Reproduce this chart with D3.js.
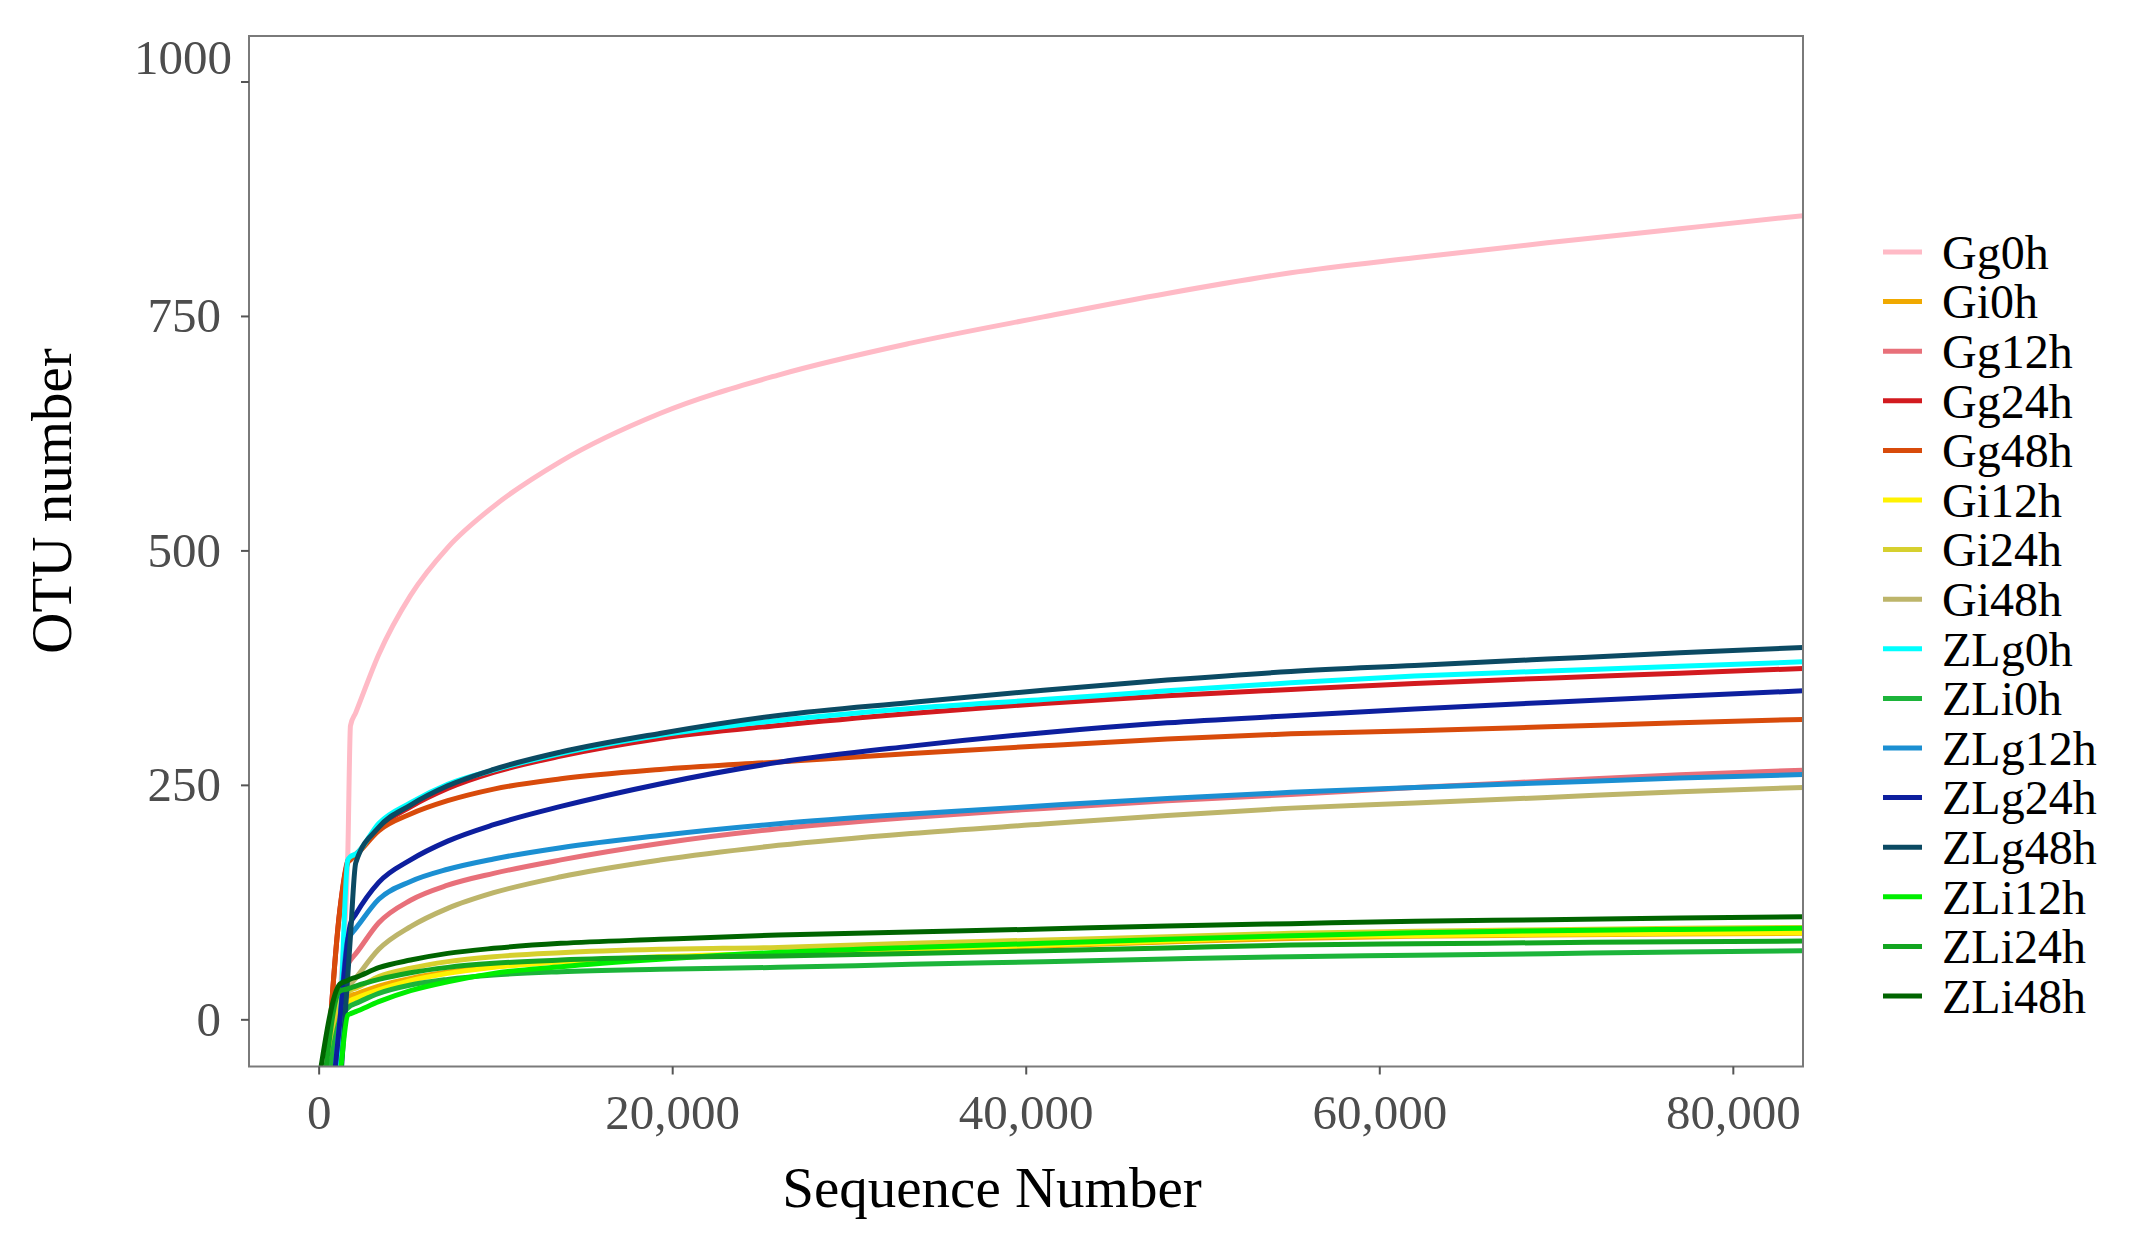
<!DOCTYPE html>
<html>
<head>
<meta charset="utf-8">
<script src="https://cdn.jsdelivr.net/npm/d3@7"></script>
<style>
  body { margin: 0; background: #fff; }
  text { font-family: "Liberation Serif", "Times New Roman", serif; }
</style>
</head>
<body>
<div id="chart"></div>
<script>
// sequencing depths where the rarefaction curves were sampled
let depths = [0, 1200, 1650, 1800, 2100, 3400, 5200, 7300, 9900, 13700, 19300, 26000,
              33500, 41000, 48000, 55000, 62000, 69500, 77000, 84000];

let samples = ["Gg0h", "Gi0h", "Gg12h", "Gg24h", "Gg48h", "Gi12h", "Gi24h", "Gi48h",
               "ZLg0h", "ZLi0h", "ZLg12h", "ZLg24h", "ZLg48h", "ZLi12h", "ZLi24h", "ZLi48h"];
let sampleColors = ["#FFBAC6", "#F0A900", "#E8707A", "#D21A1F", "#D84B0B", "#FFF200", "#D6D02E", "#BDB56A",
                    "#00FFFF", "#1CB43A", "#1B8FD2", "#0D1F9E", "#0B4A63", "#00EE00", "#12A520", "#006400"];

// OTU numbers (values under -50 sit below the panel)
let Gg0h  = [-399, 20, 177, 313, 327, 389, 452, 503, 547, 595, 646, 687, 721, 749, 774, 796, 812, 828, 843, 857];
let Gi0h  = [-134, 10, 23, 25, 27, 35.5, 43.7, 50.4, 56.1, 61.5, 66.1, 69.6, 73.9, 78.2, 82.4, 86.3, 88.5, 89.9, 91, 91.7];
let Gg12h = [-216, -17, 58, 63, 70, 103, 127, 143, 155.6, 170, 187.5, 203.2, 215.3, 224.9, 233.1, 239.8, 247.3, 254, 260.8, 265.7];
let Gg24h = [-201, 117, 169, 172, 176, 204.6, 226.7, 246.2, 263.3, 280.7, 299.5, 313.4, 326.2, 336.8, 345, 351.7, 358.1, 363.8, 369.1, 374.1];
let Gg48h = [-201, 116, 167, 170, 175, 201, 218.9, 233.1, 245.5, 256.5, 266.5, 274.5, 283.5, 291.7, 298.8, 304.5, 307.7, 311.9, 316.2, 319.8];
let Gi12h = [-133, 0, 18, 20, 22.4, 31.3, 41.2, 49, 55.4, 61.5, 66.8, 70.3, 74.6, 79.2, 83.8, 88.1, 89.5, 90.6, 91.7, 92.4];
let Gi24h = [-122, 22, 29, 31, 33.1, 45.5, 54.4, 61.5, 66.8, 71, 74.6, 76.7, 81, 84.6, 88.1, 91.7, 93.8, 95.6, 97, 98];
let Gi48h = [-205, -35, 33, 37, 44, 74.6, 98.8, 118.3, 135, 152, 169.8, 185.5, 198.2, 208.2, 217.4, 225.2, 230.6, 236.6, 242.7, 247.3];
let ZLg0h = [-530, -21, 170, 173.5, 176.2, 208.9, 230.9, 250.5, 265.7, 283.5, 303, 318.7, 331.5, 341, 350.3, 358.8, 366, 371.3, 376.6, 381.2];
let ZLi0h = [-150, 0, 12, 14.5, 17, 27.7, 36.6, 42.6, 47.3, 50.8, 53.3, 55.4, 58.6, 61.5, 64.3, 66.8, 68.2, 70, 71.8, 73.2];
let ZLg12h = [-232, -1, 86, 90, 97, 128, 147, 160, 171, 183, 196, 208.5, 218.9, 227.7, 235.5, 242, 247.3, 252.3, 257.2, 261.1];
let ZLg24h = [-230, -2, 85, 102, 112, 146, 170, 190, 207.5, 227, 251, 274, 291.3, 305.6, 316.2, 323.7, 330.8, 337.9, 344.6, 350.3];
let ZLg48h = [-411, -78, 47, 89, 167, 204.6, 228.5, 249, 266.5, 285, 304.8, 324, 337.9, 351, 361.7, 370.9, 377.3, 384.1, 390.8, 396.5];
let ZLi12h = [-200, -60, 4.5, 6, 8.2, 18.8, 30.6, 40.1, 49, 56.1, 64, 71.4, 76.7, 81, 85.3, 89.2, 92.4, 94.5, 95.9, 97];
let ZLi24h = [-130, 30, 32.5, 33.5, 35.5, 42.6, 49.7, 55.4, 59.7, 63.2, 66.1, 67.5, 70.3, 73.2, 76, 79.2, 80.6, 81.7, 82.8, 83.5];
let ZLi48h = [-67, 37.5, 41.5, 43, 44.8, 55.1, 63.2, 70.3, 75.7, 81, 85.3, 89.9, 93.1, 96.3, 99.5, 102, 104.5, 106.2, 108, 109.4];

// same order as samples
let otuSeries = [Gg0h, Gi0h, Gg12h, Gg24h, Gg48h, Gi12h, Gi24h, Gi48h,
                 ZLg0h, ZLi0h, ZLg12h, ZLg24h, ZLg48h, ZLi12h, ZLi24h, ZLi48h];

let xTicks = [0, 20000, 40000, 60000, 80000];
let yTicks = [0, 250, 500, 750, 1000];
let xDomain = [-3940, 83970];
let yDomain = [-50.3, 1048.5];

let width = 2129, height = 1249;
let panel = {left: 249, top: 36, right: 1803, bottom: 1066.5};
let tickGrey = "#4d4d4d";

let svg = d3.select("#chart")
    .append("svg")
    .attr("width", width)
    .attr("height", height);

let x = d3.scaleLinear().domain(xDomain).range([panel.left, panel.right]);
let y = d3.scaleLinear().domain(yDomain).range([panel.bottom, panel.top]);

svg.append("defs")
    .append("clipPath")
    .attr("id", "panelClip")
    .append("rect")
    .attr("x", panel.left)
    .attr("y", panel.top)
    .attr("width", panel.right - panel.left)
    .attr("height", panel.bottom - panel.top);

// curves, drawn in legend order so later samples sit on top
let line = d3.line()
    .x((d, i) => x(depths[i]))
    .y(d => y(d))
    .curve(d3.curveMonotoneX);

let curves = svg.append("g").attr("clip-path", "url(#panelClip)");
otuSeries.forEach((values, i) => {
    curves.append("path")
        .datum(values)
        .attr("d", line)
        .attr("fill", "none")
        .attr("stroke", sampleColors[i])
        .attr("stroke-width", 5)
        .attr("stroke-linejoin", "round");
});

// panel border
svg.append("rect")
    .attr("x", panel.left)
    .attr("y", panel.top)
    .attr("width", panel.right - panel.left)
    .attr("height", panel.bottom - panel.top)
    .attr("fill", "none")
    .attr("stroke", "#7a7a7a")
    .attr("stroke-width", 2);

function styleAxis(g) {
    g.select(".domain").remove();
    g.attr("font-family", "Liberation Serif, Times New Roman, serif")
        .attr("font-size", 49);
    g.selectAll(".tick line").attr("stroke", "#555").attr("stroke-width", 2);
    g.selectAll(".tick text").attr("fill", tickGrey);
}

let xAxis = svg.append("g")
    .attr("transform", "translate(0," + panel.bottom + ")")
    .call(d3.axisBottom(x).tickValues(xTicks).tickSize(8).tickPadding(20).tickFormat(d3.format(",")))
    .call(styleAxis);

let yAxis = svg.append("g")
    .attr("transform", "translate(" + panel.left + ",0)")
    .call(d3.axisLeft(y).tickValues(yTicks).tickSize(8).tickPadding(20).tickFormat(d3.format("d")))
    .call(styleAxis);

// the top label sits a little above and right of its tick in the original
yAxis.selectAll(".tick text")
    .filter(d => d === 1000)
    .attr("transform", "translate(11,-24)");

// axis titles
svg.append("text")
    .attr("x", 992)
    .attr("y", 1207)
    .attr("text-anchor", "middle")
    .attr("font-size", 57)
    .attr("fill", "#000")
    .text("Sequence Number");

svg.append("text")
    .attr("transform", "translate(71,501) rotate(-90)")
    .attr("text-anchor", "middle")
    .attr("font-size", 57)
    .attr("fill", "#000")
    .text("OTU number");

// legend
let legend = svg.append("g").attr("transform", "translate(1883,252)");
samples.forEach((name, i) => {
    let row = legend.append("g").attr("transform", "translate(0," + (i * 49.6) + ")");
    row.append("line")
        .attr("x1", 0)
        .attr("x2", 39)
        .attr("stroke", sampleColors[i])
        .attr("stroke-width", 5);
    row.append("text")
        .attr("x", 59)
        .attr("dy", "0.35em")
        .attr("font-size", 48)
        .attr("fill", "#000")
        .text(name);
});
</script>
</body>
</html>
